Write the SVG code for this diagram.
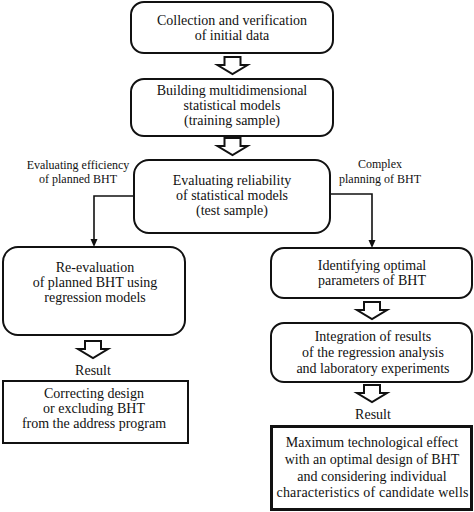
<svg xmlns="http://www.w3.org/2000/svg" width="474" height="512" viewBox="0 0 474 512" font-family="'Liberation Serif', 'Times New Roman', 'DejaVu Serif', serif">
<style>
.box{fill:#fff;stroke:#111;stroke-width:2}
.res{fill:#fff;stroke:#111;stroke-width:2}
.res2{fill:#fff;stroke:#111;stroke-width:3}
text{fill:#111;text-anchor:middle;font-family:'Liberation Serif','Times New Roman',serif}
.t{font-size:14px}
.s{font-size:12px}
.conn{fill:none;stroke:#111;stroke-width:1.6}
.hol{fill:#fff;stroke:#111;stroke-width:2;stroke-linejoin:miter}
</style>
<defs>
<path id="hollow" d="M-8,0 H8 V8 H15 L0,17 L-15,8 H-8 Z"/>
</defs>
<rect width="474" height="512" fill="#fff"/>

<g id="connectors">
<path class="conn" d="M134,196 H94 V240"/>
<path d="M90.5,239 H97.5 L94,247 Z" fill="#111"/>
<path class="conn" d="M331,194 H372 V241"/>
<path d="M368.5,240 H375.5 L372,248 Z" fill="#111"/>
<use href="#hollow" class="hol" x="232.5" y="57"/>
<use href="#hollow" class="hol" x="232.5" y="138"/>
<use href="#hollow" class="hol" x="93" y="341"/>
<use href="#hollow" class="hol" x="372" y="302"/>
<use href="#hollow" class="hol" x="372" y="385"/>
</g>

<g id="n1">
<rect class="box" x="131" y="2" width="202" height="51" rx="13"/>
<text class="t" x="232" y="25">Collection and verification</text>
<text class="t" x="232" y="40">of initial data</text>
</g>

<g id="n2">
<rect class="box" x="131" y="79" width="202" height="57" rx="13"/>
<text class="t" x="232" y="95">Building multidimensional</text>
<text class="t" x="232" y="110">statistical models</text>
<text class="t" x="232" y="125">(training sample)</text>
</g>

<g id="n3">
<rect class="box" x="134" y="160" width="196" height="73" rx="15"/>
<text class="t" x="232" y="185">Evaluating reliability</text>
<text class="t" x="232" y="200">of statistical models</text>
<text class="t" x="232" y="215">(test sample)</text>
</g>

<g id="lbl-left">
<text class="s" x="78" y="169">Evaluating efficiency</text>
<text class="s" x="78" y="183">of planned BHT</text>
</g>

<g id="lbl-right">
<text class="s" x="380" y="168">Complex</text>
<text class="s" x="380" y="183">planning of BHT</text>
</g>

<g id="n4">
<rect class="box" x="3" y="247" width="182" height="88" rx="15"/>
<text class="t" x="95" y="272">Re-evaluation</text>
<text class="t" x="95" y="287">of planned BHT using</text>
<text class="t" x="95" y="302">regression models</text>
</g>

<g id="n5">
<rect class="box" x="271" y="248" width="201" height="50" rx="13"/>
<text class="t" x="372" y="270">Identifying optimal</text>
<text class="t" x="372" y="285">parameters of BHT</text>
</g>

<g id="n6">
<rect class="box" x="271" y="323" width="201" height="59" rx="13"/>
<text class="t" x="373" y="341">Integration of results</text>
<text class="t" x="373" y="357">of the regression analysis</text>
<text class="t" x="373" y="373">and laboratory experiments</text>
</g>

<g id="result-left">
<text class="t" x="93" y="375">Result</text>
</g>

<g id="n7">
<rect class="res" x="3" y="381" width="185" height="62"/>
<text class="t" x="94" y="398">Correcting design</text>
<text class="t" x="94" y="413">or excluding BHT</text>
<text class="t" x="94" y="428">from the address program</text>
</g>

<g id="result-right">
<text class="t" x="373" y="419">Result</text>
</g>

<g id="n8">
<rect class="res2" x="271.5" y="426.5" width="200" height="83"/>
<text class="t" x="372" y="447">Maximum technological effect</text>
<text class="t" x="372" y="464">with an optimal design of BHT</text>
<text class="t" x="372" y="481">and considering individual</text>
<text class="t" x="372.5" y="497" textLength="192" lengthAdjust="spacing">characteristics of candidate wells</text>
</g>
</svg>
